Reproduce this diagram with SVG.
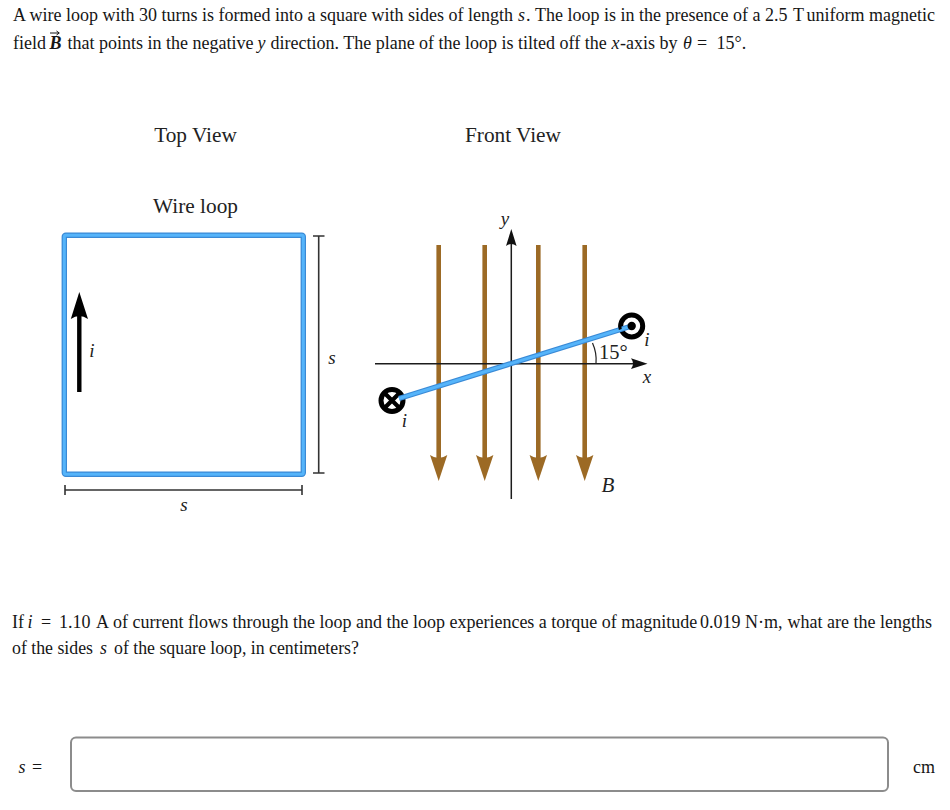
<svg xmlns="http://www.w3.org/2000/svg" width="950" height="810" viewBox="0 0 950 810">
<style>
text{font-family:"Liberation Serif","Times New Roman",serif;font-size:18px;fill:#161616}
.i{font-style:italic}
.lab{font-size:21.300px;fill:#222}
.sm{font-size:19px;font-style:italic;fill:#222}
.wire{fill:none;stroke:#3a8ad6;stroke-width:5.400}
.wirec{fill:none;stroke:#55b4fa;stroke-width:3}
.ax{fill:none;stroke:#1c1c1c;stroke-width:1.500}
.dim{fill:none;stroke:#333;stroke-width:1.600}
.b{stroke:#9c6a25;stroke-width:4.600;fill:none}
.bh{fill:#9c6a25}
</style>
<rect width="950" height="810" fill="#fff"/>
<g id="prompt">
<text y="20.500"><tspan x="13">A wire loop with 30 turns is formed into a square with sides of length</tspan><tspan x="518" class="i">s</tspan><tspan x="526">.</tspan><tspan x="535">The loop is in the presence of a</tspan><tspan x="765">2.5</tspan><tspan x="793">T</tspan><tspan x="806.500">uniform magnetic</tspan></text>
<text y="48.500"><tspan x="13">field</tspan><tspan x="49.500" font-weight="bold" font-style="italic">B</tspan><tspan x="67.500">that points in the negative</tspan><tspan x="257.500" class="i">y</tspan><tspan x="270.500">direction. The plane of the loop is tilted off the</tspan><tspan x="611.500" class="i">x</tspan><tspan x="620">-axis by</tspan><tspan x="683" class="i">θ</tspan><tspan x="697">=</tspan><tspan x="716.500">15°.</tspan></text>
<path d="M50 33H59M56.500 31l2.800 2-2.800 2" fill="none" stroke="#161616" stroke-width="1"/>
</g>
<g id="top-view">
<text class="lab" x="195.500" y="142" text-anchor="middle">Top View</text>
<text class="lab" x="195.500" y="213" text-anchor="middle">Wire loop</text>
<rect class="wire" x="64.300" y="235.300" width="239" height="239" rx="1.500"/>
<rect class="wirec" x="64.300" y="235.300" width="239" height="239" rx="1.500"/>
<path d="M79.300 392V316" stroke="#000" stroke-width="4.400"/>
<path d="M79.300 292L88 319Q79.300 313 70.800 319Z" fill="#000"/>
<text class="sm" x="92" y="357" text-anchor="middle">i</text>
<path class="dim" d="M318.700 236V473M313 236H324.500M313 473H324.500"/>
<text class="sm" x="332" y="364" text-anchor="middle">s</text>
<path class="dim" d="M65 490H302M65 485V495M302 485V495"/>
<text class="sm" x="184" y="511" text-anchor="middle">s</text>
</g>
<g id="front-view">
<text class="lab" x="513" y="142" text-anchor="middle">Front View</text>
<path class="b" d="M438.700 245V460M484.700 245V460M538.300 245V460M584.700 245V460"/>
<path class="bh" d="M430 455Q438.700 461 447.300 455L438.700 481Z"/>
<path class="bh" d="M476 455Q484.700 461 493.400 455L484.700 481Z"/>
<path class="bh" d="M529.600 455Q538.300 461 547 455L538.300 481Z"/>
<path class="bh" d="M576 455Q584.700 461 593.400 455L584.700 481Z"/>
<path class="ax" d="M375 363.700H640M511.300 499V236"/>
<path d="M647.500 363.700L631 358.300Q635 363.700 631 369.100Z" fill="#111"/>
<path d="M511.300 229L506 246Q511.300 242 516.600 246Z" fill="#111"/>
<path d="M592.500 343Q597 353 596 363.700" fill="none" stroke="#222" stroke-width="1.200"/>
<text x="599" y="359" style="font-size:20.500px;fill:#222">15°</text>
<g id="current-in">
<circle cx="392" cy="400.500" r="11" fill="#fff" stroke="#000" stroke-width="5"/>
<path d="M385 393.500L399 407.500M399 393.500L385 407.500" stroke="#000" stroke-width="4.200"/>
</g>
<g id="current-out">
<circle cx="631.700" cy="326" r="11" fill="#fff" stroke="#000" stroke-width="5"/>
</g>
<path d="M399 398.500L631.700 326" class="wire"/>
<path d="M399 398.500L631.700 326" class="wirec"/>
<g id="current-out-dot"><circle cx="631.700" cy="326" r="4.200" fill="#000"/></g>
<path d="M620.300 329.500A11.500 11.500 0 0 1 622 320" fill="none" stroke="#000" stroke-width="3"/>
<text class="sm" x="404.500" y="427" text-anchor="middle">i</text>
<text class="sm" x="647" y="346" text-anchor="middle">i</text>
<text class="sm" x="647" y="383" text-anchor="middle">x</text>
<text class="sm" x="505" y="225" text-anchor="middle">y</text>
<text x="608" y="492" text-anchor="middle" style="font-size:21px;font-style:italic;fill:#222">B</text>
</g>
<g id="question">
<text y="628"><tspan x="12">If</tspan><tspan x="27.500" class="i">i</tspan><tspan x="41">=</tspan><tspan x="59">1.10</tspan><tspan x="96">A</tspan><tspan x="113">of current flows through the loop and the loop experiences a torque of magnitude</tspan><tspan x="700">0.019</tspan><tspan x="745">N·m,</tspan><tspan x="787.500">what are the lengths</tspan></text>
<text y="654" style="font-size:17.800px"><tspan x="12">of the sides</tspan><tspan x="100" class="i">s</tspan><tspan x="114">of the square loop, in centimeters?</tspan></text>
</g>
<g id="answer">
<text y="773"><tspan x="18.500" class="i">s</tspan><tspan x="32">=</tspan></text>
<rect x="71" y="737.500" width="817" height="53.500" rx="5" fill="#fff" stroke="#8c8c8c" stroke-width="2"/>
<text x="913" y="773">cm</text>
</g>
</svg>
